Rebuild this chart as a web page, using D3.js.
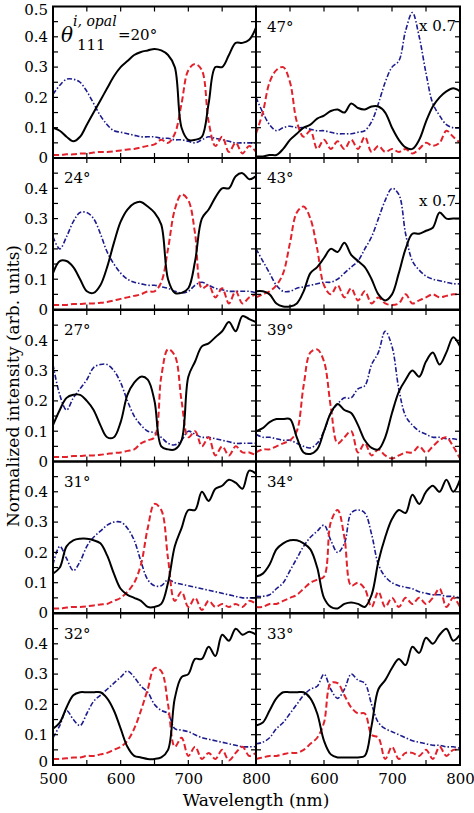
<!DOCTYPE html>
<html><head><meta charset="utf-8">
<script src="https://cdn.jsdelivr.net/npm/d3@7"></script>
<style>body{margin:0;background:#fff} svg text{font-family:"DejaVu Serif",serif;}</style></head>
<body><svg id="c" width="474" height="813"></svg>
<script>
const wl = d3.range(500, 801, 10);
const angles = ["20°","47°","24°","43°","27°","39°","31°","34°","32°","33°"];
const scaleNote = ["","x 0.7","","x 0.7","","","","","",""];
const black = [
[0.10,0.09,0.07,0.055,0.07,0.11,0.15,0.19,0.23,0.27,0.30,0.32,0.34,0.35,0.355,0.36,0.355,0.34,0.30,0.10,0.06,0.06,0.07,0.18,0.30,0.30,0.34,0.38,0.38,0.39,0.43],
[0.005,0.005,0.01,0.01,0.03,0.06,0.08,0.10,0.11,0.13,0.14,0.155,0.16,0.15,0.18,0.165,0.16,0.17,0.17,0.15,0.10,0.06,0.035,0.03,0.06,0.12,0.17,0.20,0.22,0.23,0.22],
[0.12,0.16,0.16,0.14,0.10,0.06,0.055,0.08,0.14,0.22,0.29,0.33,0.35,0.355,0.34,0.32,0.28,0.10,0.055,0.055,0.07,0.16,0.30,0.33,0.37,0.40,0.40,0.44,0.45,0.43,0.44],
[0.06,0.06,0.05,0.02,0.01,0.01,0.02,0.06,0.12,0.14,0.17,0.20,0.19,0.22,0.18,0.16,0.14,0.10,0.05,0.03,0.05,0.12,0.20,0.25,0.25,0.26,0.27,0.32,0.30,0.30,0.30],
[0.12,0.17,0.21,0.22,0.22,0.20,0.17,0.12,0.08,0.08,0.13,0.22,0.26,0.28,0.27,0.20,0.05,0.04,0.04,0.07,0.28,0.33,0.38,0.39,0.41,0.43,0.46,0.43,0.48,0.47,0.46],
[0.10,0.11,0.13,0.14,0.14,0.14,0.08,0.03,0.025,0.04,0.10,0.16,0.19,0.17,0.16,0.12,0.07,0.045,0.04,0.08,0.16,0.23,0.27,0.30,0.28,0.33,0.36,0.32,0.36,0.41,0.38],
[0.13,0.15,0.22,0.24,0.245,0.245,0.24,0.23,0.19,0.13,0.08,0.06,0.05,0.04,0.02,0.02,0.03,0.10,0.22,0.28,0.34,0.34,0.40,0.37,0.41,0.42,0.44,0.43,0.41,0.47,0.46],
[0.12,0.13,0.16,0.21,0.23,0.24,0.24,0.23,0.21,0.15,0.05,0.02,0.015,0.03,0.035,0.03,0.02,0.06,0.17,0.25,0.31,0.34,0.33,0.39,0.36,0.40,0.42,0.40,0.44,0.40,0.44],
[0.12,0.14,0.19,0.23,0.24,0.24,0.24,0.24,0.22,0.18,0.12,0.06,0.03,0.025,0.02,0.02,0.025,0.05,0.22,0.29,0.30,0.35,0.35,0.39,0.36,0.43,0.41,0.45,0.43,0.44,0.43],
[0.13,0.14,0.18,0.22,0.24,0.24,0.24,0.24,0.22,0.17,0.08,0.035,0.025,0.025,0.025,0.025,0.03,0.13,0.25,0.28,0.32,0.35,0.33,0.39,0.37,0.42,0.40,0.43,0.45,0.41,0.43]];
const blue = [
[0.21,0.24,0.26,0.26,0.25,0.22,0.18,0.14,0.11,0.09,0.085,0.08,0.075,0.07,0.07,0.07,0.065,0.065,0.06,0.06,0.055,0.05,0.06,0.07,0.065,0.06,0.055,0.05,0.05,0.05,0.05],
[0.20,0.15,0.11,0.09,0.10,0.105,0.10,0.10,0.095,0.09,0.09,0.085,0.08,0.08,0.08,0.085,0.09,0.12,0.18,0.25,0.30,0.32,0.42,0.48,0.40,0.28,0.18,0.14,0.11,0.10,0.10],
[0.24,0.20,0.24,0.29,0.32,0.32,0.30,0.25,0.19,0.15,0.12,0.10,0.09,0.085,0.08,0.08,0.075,0.07,0.06,0.055,0.06,0.08,0.09,0.08,0.07,0.065,0.06,0.06,0.06,0.06,0.055],
[0.20,0.16,0.12,0.08,0.06,0.06,0.07,0.075,0.08,0.085,0.09,0.09,0.10,0.12,0.14,0.16,0.20,0.24,0.30,0.36,0.40,0.38,0.25,0.16,0.13,0.11,0.10,0.095,0.09,0.085,0.085],
[0.32,0.22,0.17,0.21,0.24,0.27,0.31,0.32,0.32,0.30,0.26,0.20,0.15,0.12,0.10,0.095,0.08,0.06,0.055,0.07,0.10,0.09,0.08,0.08,0.075,0.07,0.065,0.06,0.06,0.06,0.06],
[0.09,0.08,0.08,0.075,0.07,0.07,0.06,0.05,0.045,0.06,0.10,0.16,0.19,0.21,0.21,0.24,0.25,0.32,0.36,0.43,0.38,0.24,0.15,0.12,0.10,0.09,0.08,0.08,0.075,0.075,0.07],
[0.16,0.22,0.18,0.14,0.17,0.22,0.25,0.27,0.29,0.30,0.30,0.28,0.24,0.17,0.11,0.09,0.09,0.11,0.10,0.095,0.09,0.085,0.08,0.075,0.07,0.065,0.06,0.055,0.05,0.05,0.05],
[0.055,0.055,0.06,0.08,0.10,0.14,0.18,0.22,0.25,0.27,0.29,0.24,0.20,0.23,0.33,0.34,0.33,0.26,0.16,0.12,0.10,0.09,0.085,0.08,0.07,0.065,0.06,0.06,0.055,0.055,0.05],
[0.09,0.13,0.18,0.15,0.13,0.17,0.21,0.23,0.25,0.27,0.29,0.31,0.29,0.26,0.24,0.20,0.18,0.17,0.12,0.115,0.11,0.10,0.09,0.085,0.08,0.075,0.07,0.065,0.06,0.06,0.06],
[0.07,0.075,0.09,0.12,0.14,0.17,0.20,0.23,0.25,0.26,0.30,0.25,0.22,0.25,0.30,0.28,0.27,0.20,0.14,0.12,0.11,0.10,0.09,0.08,0.075,0.07,0.065,0.065,0.06,0.06,0.055]];
const red = [
[0.01,0.01,0.012,0.012,0.015,0.015,0.018,0.02,0.02,0.022,0.025,0.028,0.03,0.035,0.04,0.045,0.06,0.05,0.08,0.18,0.29,0.31,0.29,0.12,0.04,0.07,0.02,0.05,0.015,0.04,0.02],
[0.08,0.15,0.25,0.29,0.30,0.25,0.12,0.07,0.09,0.03,0.06,0.03,0.055,0.03,0.06,0.03,0.07,0.02,0.04,0.02,0.03,0.02,0.03,0.015,0.03,0.05,0.04,0.05,0.09,0.07,0.05],
[0.015,0.015,0.015,0.018,0.018,0.02,0.02,0.022,0.025,0.03,0.035,0.04,0.045,0.05,0.06,0.06,0.09,0.20,0.33,0.38,0.36,0.25,0.07,0.08,0.04,0.07,0.02,0.06,0.02,0.04,0.05],
[0.04,0.05,0.06,0.08,0.12,0.22,0.32,0.34,0.30,0.20,0.08,0.05,0.08,0.04,0.07,0.03,0.06,0.02,0.04,0.02,0.015,0.02,0.05,0.02,0.03,0.04,0.05,0.04,0.045,0.05,0.05],
[0.015,0.015,0.015,0.018,0.018,0.02,0.02,0.022,0.025,0.028,0.03,0.035,0.04,0.06,0.07,0.08,0.28,0.37,0.35,0.20,0.08,0.10,0.05,0.08,0.02,0.05,0.02,0.05,0.03,0.03,0.02],
[0.03,0.04,0.04,0.05,0.06,0.07,0.10,0.25,0.36,0.37,0.33,0.18,0.06,0.08,0.10,0.03,0.06,0.02,0.04,0.02,0.01,0.02,0.03,0.03,0.05,0.03,0.05,0.07,0.08,0.05,0.01],
[0.015,0.015,0.018,0.02,0.02,0.022,0.025,0.028,0.03,0.04,0.05,0.07,0.10,0.16,0.28,0.36,0.34,0.18,0.04,0.07,0.02,0.05,0.01,0.04,0.02,0.03,0.02,0.03,0.02,0.04,0.03],
[0.02,0.02,0.03,0.03,0.04,0.05,0.06,0.08,0.10,0.11,0.12,0.30,0.34,0.25,0.09,0.10,0.08,0.02,0.07,0.02,0.05,0.02,0.05,0.03,0.05,0.03,0.05,0.08,0.02,0.05,0.02],
[0.02,0.02,0.022,0.025,0.025,0.03,0.03,0.035,0.04,0.05,0.06,0.08,0.12,0.18,0.25,0.32,0.31,0.20,0.06,0.09,0.03,0.06,0.02,0.04,0.02,0.05,0.015,0.04,0.06,0.03,0.04],
[0.02,0.025,0.03,0.03,0.035,0.04,0.04,0.05,0.07,0.09,0.14,0.27,0.27,0.23,0.19,0.17,0.17,0.10,0.09,0.02,0.06,0.02,0.04,0.04,0.03,0.05,0.02,0.06,0.03,0.05,0.05]];
const xTicksLeft = [500,600,700,800];
const xTicksRight = [600,700,800];
const yTicks = [0,0.1,0.2,0.3,0.4,0.5];

const svg = d3.select("#c");
const colX = [[53,256],[256,460]];
const rowY = [158,309.5,461.5,613,765];
const H = 151.5;
const defs = svg.append("defs");
angles.forEach((a,i)=>{
  const c = i%2, r = Math.floor(i/2);
  const x = d3.scaleLinear().domain([500,800]).range(colX[c]);
  const y = d3.scaleLinear().domain([0,0.5]).range([rowY[r], rowY[r]-H]);
  const g = svg.append("g");
  defs.append("clipPath").attr("id","cp"+i).append("rect")
    .attr("x",colX[c][0]).attr("y",rowY[r]-H).attr("width",colX[c][1]-colX[c][0]).attr("height",H);
  const pg = g.append("g").attr("clip-path",`url(#cp${i})`);
  const line = d3.line().x((d,k)=>x(wl[k])).y(d=>y(d)).curve(d3.curveCatmullRom);
  pg.append("path").attr("d",line(blue[i])).attr("fill","none").attr("stroke","#1c1c8e").attr("stroke-width",1.6).attr("stroke-dasharray","5,2,1.5,2");
  pg.append("path").attr("d",line(red[i])).attr("fill","none").attr("stroke","#e3212b").attr("stroke-width",2).attr("stroke-dasharray","6,3");
  pg.append("path").attr("d",line(black[i])).attr("fill","none").attr("stroke","#000").attr("stroke-width",2);
  const tk = g.append("g").attr("stroke","#000").attr("stroke-width",1.2);
  d3.range(550,800,50).forEach(v=>{
    tk.append("line").attr("x1",x(v)).attr("x2",x(v)).attr("y1",rowY[r]).attr("y2",rowY[r]-5);
    tk.append("line").attr("x1",x(v)).attr("x2",x(v)).attr("y1",rowY[r]-H).attr("y2",rowY[r]-H+5);
  });
  d3.range(0.05,0.5,0.05).forEach(v=>{
    tk.append("line").attr("x1",colX[c][0]).attr("x2",colX[c][0]+5).attr("y1",y(v)).attr("y2",y(v));
    tk.append("line").attr("x1",colX[c][1]).attr("x2",colX[c][1]-5).attr("y1",y(v)).attr("y2",y(v));
  });
  g.append("rect").attr("x",colX[c][0]).attr("y",rowY[r]-H).attr("width",colX[c][1]-colX[c][0]).attr("height",H)
    .attr("fill","none").attr("stroke","#000").attr("stroke-width",2);
  if(c===0){
    const ax = d3.axisLeft(y).tickValues(r===0?yTicks:yTicks.slice(0,5)).tickSize(0).tickPadding(5).tickFormat(d=>d===0?"0":d3.format(".1f")(d));
    const ag = svg.append("g").attr("transform",`translate(${colX[0][0]},0)`).call(ax);
    ag.select(".domain").remove();
    ag.selectAll("text").attr("font-size",15).attr("fill","#000")
      .attr("dy", d=> d===0 && r===4 ? "0.1em" : (d===0.5 ? "0.5em" : "0.32em"));
  }
  if(r===4){
    const ax = d3.axisBottom(x).tickValues(c===0?xTicksLeft:xTicksRight).tickSize(0).tickPadding(8).tickFormat(d3.format("d"));
    const ag = svg.append("g").attr("transform",`translate(0,${rowY[4]})`).call(ax);
    ag.select(".domain").remove();
    ag.selectAll("text").attr("font-size",15).attr("fill","#000");
  }
  if(i===0){
    const t = svg.append("text").attr("font-size",15).attr("x",61).attr("y",42);
    t.append("tspan").attr("font-style","italic").attr("font-size",20).text("θ");
    t.append("tspan").attr("dy",-16).attr("font-style","italic").attr("font-size",14).text("i, opal");
    svg.append("text").attr("font-size",15).attr("x",77).attr("y",50).text("111");
    svg.append("text").attr("font-size",15).attr("x",118).attr("y",40).text("=20°");
  } else {
    svg.append("text").attr("font-size",15).attr("x",colX[c][0]+11).attr("y",rowY[r]-H+25).text(a);
  }
  if(scaleNote[i]) svg.append("text").attr("font-size",15).attr("x",colX[c][1]-4).attr("text-anchor","end")
    .attr("y", i===1 ? rowY[r]-H+24 : rowY[r]-H+48).text(scaleNote[i]);
});
svg.append("text").attr("font-size",17).attr("x",256).attr("y",806).attr("text-anchor","middle").text("Wavelength (nm)");
svg.append("text").attr("font-size",17).attr("transform","translate(19,386) rotate(-90)").attr("text-anchor","middle").text("Normalized intensity (arb. units)");
</script></body></html>
